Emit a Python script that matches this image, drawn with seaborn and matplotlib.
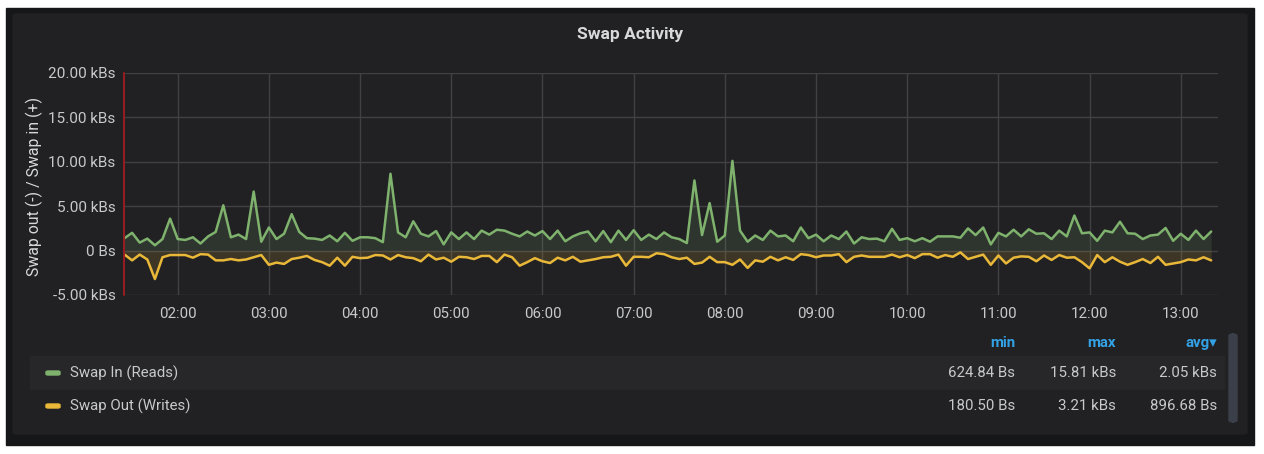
import pandas as pd
import matplotlib
matplotlib.use("Agg")
import matplotlib.pyplot as plt
import matplotlib.dates as mdates
from matplotlib.patches import Rectangle, FancyBboxPatch
import seaborn as sns

# swap in (reads), kBs, every 5 min from 01:20
swap_in = [2.4, 1.4, 2.0, 0.9, 1.35, 0.6, 1.3, 3.6, 1.3, 1.2, 1.5, 0.8,
           1.6, 2.1, 5.1, 1.5, 1.8, 1.3, 6.65, 1.0, 2.6, 1.3, 1.9, 4.1,
           2.1, 1.4, 1.35, 1.2, 1.7, 1.05, 2.0, 1.1, 1.5, 1.5, 1.4, 0.95,
           8.65, 2.05, 1.5, 3.3, 1.9, 1.6, 2.2, 0.7, 2.05, 1.3, 2.05, 1.3,
           2.25, 1.8, 2.35, 2.25, 1.9, 1.6, 2.15, 1.7, 2.2, 1.3, 2.25, 1.05,
           1.6, 1.95, 2.15, 1.05, 2.2, 0.95, 2.25, 1.2, 2.3, 1.2, 1.8, 1.3,
           2.05, 1.5, 1.3, 0.85, 7.9, 1.75, 5.35, 1.0, 1.7, 10.1, 2.25, 1.0,
           1.7, 1.2, 2.25, 1.6, 1.7, 1.05, 2.6, 1.4, 1.8, 1.05, 1.7, 1.3,
           2.15, 0.8, 1.5, 1.3, 1.35, 1.05, 2.45, 1.2, 1.4, 1.05, 1.4, 1.0,
           1.6, 1.6, 1.6, 1.45, 2.5, 1.75, 2.6, 0.7, 2.0, 1.6, 2.35, 1.6,
           2.4, 1.9, 1.95, 1.3, 2.25, 1.6, 3.95, 1.95, 2.05, 1.1, 2.25, 2.05,
           3.25, 1.95, 1.9, 1.3, 1.7, 1.8, 2.55, 1.1, 1.9, 1.2, 2.25, 1.3,
           2.15]

# swap out (writes), kBs, drawn below zero
swap_out = [0.3, 0.45, 1.1, 0.45, 1.0, 3.2, 0.75, 0.5, 0.5, 0.5, 0.8, 0.4,
            0.45, 1.1, 1.1, 0.95, 1.1, 1.0, 0.75, 0.5, 1.6, 1.35, 1.5, 0.95,
            0.8, 0.6, 1.05, 1.3, 1.7, 0.8, 1.7, 0.7, 0.85, 0.8, 0.5, 0.55,
            1.0, 0.5, 0.75, 0.85, 1.2, 0.45, 1.0, 0.8, 1.25, 0.7, 0.75, 0.95,
            0.6, 0.6, 1.3, 0.45, 0.75, 1.7, 1.3, 0.85, 1.2, 1.4, 0.8, 1.1,
            0.7, 1.25, 1.1, 0.95, 0.75, 0.7, 0.45, 1.7, 0.7, 0.7, 0.75, 0.3,
            0.4, 0.75, 0.95, 0.8, 1.5, 1.35, 0.7, 1.3, 1.3, 1.6, 1.0, 1.95,
            1.1, 1.25, 0.7, 1.1, 0.75, 1.05, 0.4, 0.5, 0.75, 0.55, 0.55, 0.4,
            1.3, 0.7, 0.55, 0.7, 0.7, 0.7, 0.45, 0.75, 0.5, 0.85, 0.4, 0.4,
            0.8, 0.5, 0.7, 0.2, 0.95, 0.7, 0.45, 1.6, 0.55, 1.45, 0.8, 0.65,
            0.7, 1.2, 0.55, 1.05, 0.5, 0.8, 0.75, 1.3, 2.0, 0.5, 1.3, 0.75,
            1.25, 1.6, 1.3, 0.95, 1.4, 0.7, 1.6, 1.45, 1.3, 1.0, 1.1, 0.75,
            1.1]

series_names = ["Swap In (Reads)", "Swap Out (Writes)"]
stat_min = ["624.84 Bs", "180.50 Bs"]
stat_max = ["15.81 kBs", "3.21 kBs"]
stat_avg = ["2.05 kBs", "896.68 Bs"]
yticks = [-5, 0, 5, 10, 15, 20]
ytick_labels = ["-5.00 kBs", "0 Bs", "5.00 kBs", "10.00 kBs", "15.00 kBs", "20.00 kBs"]

times = pd.date_range("2019-01-01 01:20", periods=len(swap_in), freq="5min")
df = pd.DataFrame({"time": times, "in": swap_in, "out": [-v for v in swap_out]})

GREEN = "#7eb26d"
YELLOW = "#eab839"
TXT = "#c8c9ca"
BLUE = "#33a2e5"
FS = 10.8

sns.set_theme(style="dark", rc={"axes.facecolor": "#212124"})
plt.rcParams["font.family"] = ["Roboto", "DejaVu Sans"]

W, H = 1264, 454
fig = plt.figure(figsize=(W / 100, H / 100), dpi=100, facecolor="white")


def fx(x):
    return x / W


def fy(y):
    return 1 - y / H


# outer dark background and panel
fig.patches.append(Rectangle((fx(6), fy(445)), fx(1248), (445 - 8) / H,
                             transform=fig.transFigure, color="#161719", zorder=-3))
fig.patches.append(FancyBboxPatch((fx(13), fy(434)), fx(1234), (434 - 14) / H,
                                  boxstyle="round,pad=0,rounding_size=0.004",
                                  transform=fig.transFigure, color="#212124", zorder=-2))
# highlighted legend row
fig.patches.append(Rectangle((fx(30), fy(389)), fx(1194), 33 / H,
                             transform=fig.transFigure, color="#27272a", zorder=-1))
# scrollbar
fig.patches.append(FancyBboxPatch((fx(1229), fy(422)), fx(8), (422 - 334) / H,
                                  boxstyle="round,pad=0,rounding_size=0.004",
                                  transform=fig.transFigure, color="#3b3f49", zorder=-1))

ax = fig.add_axes([fx(124), fy(295), fx(1218 - 124), (295 - 73) / H])
ax.set_zorder(1)
ax.set_facecolor("#212124")

ax.fill_between(df["time"], 0, df["in"], color=GREEN, alpha=0.14, lw=0)
ax.fill_between(df["time"], 0, df["out"], color=YELLOW, alpha=0.14, lw=0)
sns.lineplot(data=df, x="time", y="in", color=GREEN, lw=1.8, ax=ax)
sns.lineplot(data=df, x="time", y="out", color=YELLOW, lw=1.8, ax=ax)

ax.set_xlim(pd.Timestamp("2019-01-01 01:24:40"), pd.Timestamp("2019-01-01 13:24:30"))
ax.set_ylim(-5, 20)
ax.set_yticks(yticks)
ax.set_yticklabels(ytick_labels)
ax.xaxis.set_major_locator(mdates.HourLocator())
ax.xaxis.set_major_formatter(mdates.DateFormatter("%H:%M"))
ax.grid(True, color="#414144", lw=1)
ax.set_axisbelow(True)
for s in ax.spines.values():
    s.set_visible(False)
ax.tick_params(length=0, colors=TXT, labelsize=FS)
ax.tick_params(axis="x", pad=9)
ax.tick_params(axis="y", pad=6, labelsize=11)
ax.set_xlabel("")
ax.set_ylabel("")
ax.axvline(ax.get_xlim()[0], color="#9a1c22", lw=1.4, zorder=5, clip_on=False)

fig.text(fx(630), fy(34), "Swap Activity", ha="center", va="center",
         fontsize=12.5, fontweight="bold", color="#d8d9da")
fig.text(fx(34), fy(186), "Swap out (-) / Swap in (+)", rotation=90,
         ha="center", va="center", fontsize=11.4, color="#d8d9da")

# legend table
for x, head in zip([1015, 1116, 1217], ["min", "max", "avg\u25be"]):
    fig.text(fx(x), fy(343), head, ha="right", va="center", fontsize=FS,
             fontweight="bold", color=BLUE)

row_y = [373, 406]
for name, c, y, mn, mx, av in zip(series_names, [GREEN, YELLOW], row_y,
                                   stat_min, stat_max, stat_avg):
    fig.patches.append(FancyBboxPatch((fx(46), fy(y + 2)), fx(14), 4 / H,
                                      boxstyle="round,pad=0,rounding_size=0.002",
                                      transform=fig.transFigure, color=c, zorder=2))
    fig.text(fx(70), fy(y), name, ha="left", va="center", fontsize=FS, color=TXT)
    fig.text(fx(1015), fy(y), mn, ha="right", va="center", fontsize=FS, color=TXT)
    fig.text(fx(1116), fy(y), mx, ha="right", va="center", fontsize=FS, color=TXT)
    fig.text(fx(1217), fy(y), av, ha="right", va="center", fontsize=FS, color=TXT)

fig.savefig("out.png", dpi=100, facecolor="white")
